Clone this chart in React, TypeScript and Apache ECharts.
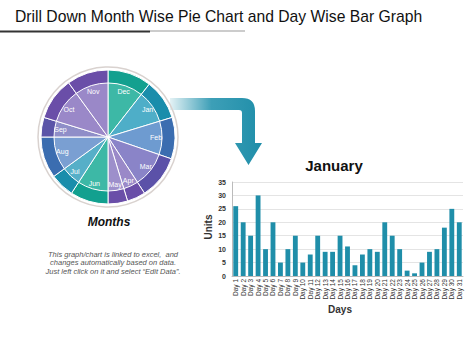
import React, { useEffect, useRef } from "react";
import * as echarts from "echarts";

const months = ["Dec", "Jan", "Feb", "Mar", "Apr", "May", "Jun", "Jul", "Aug", "Sep", "Oct", "Nov"];
const monthValues = [38, 35, 36, 38, 16, 17, 33, 21, 36, 17, 37, 36];
const outerColors = ["#13a08f", "#1a8dab", "#3b6db0", "#5b51a8", "#6a4ea8", "#6a4ea8", "#12a08f", "#1a8dab", "#3b6db0", "#5b55a8", "#6a4ea8", "#6a4ea8"];
const innerColors = ["#3db8a6", "#4eaec8", "#6e9bd0", "#8a84c8", "#9a89c8", "#9d8fcb", "#3db8a6", "#56afc8", "#7a9fd2", "#8f8ec8", "#9a88c8", "#9a88c8"];

const days = ["Day 1", "Day 2", "Day 3", "Day 4", "Day 5", "Day 6", "Day 7", "Day 8", "Day 9", "Day 10", "Day 11", "Day 12", "Day 13", "Day 14", "Day 15", "Day 16", "Day 17", "Day 18", "Day 19", "Day 20", "Day 21", "Day 22", "Day 23", "Day 24", "Day 25", "Day 26", "Day 27", "Day 28", "Day 29", "Day 30", "Day 31"];
const dayValues = [26, 20, 15, 30, 10, 20, 5, 10, 15, 5, 8, 15, 9, 9, 15, 11, 4, 8, 10, 9, 20, 15, 10, 2, 1, 5, 9, 10, 18, 25, 20];

const arrowD = "M170 98 L242 98 Q255 98 255 111 L255 143 L262 143 L248.5 165 L235 143 L242 143 L242 113 Q242 110 239 110 L170 110 Z";
echarts.graphic.registerShape("arrowShape", echarts.graphic.extendPath(arrowD, {}));

export default function App() {
  const ref = useRef<HTMLDivElement>(null);
  useEffect(() => {
    document.body.style.margin = "0";
    const chart = echarts.init(ref.current!, null, { renderer: "svg" });
    const font = "'Liberation Sans', Arial, sans-serif";
    const txt = (x: number, y: number, text: string, size: number, opts: any = {}) => ({
      type: "text",
      x,
      y,
      rotation: opts.rotation || 0,
      style: {
        text,
        fontSize: size,
        fontFamily: font,
        fontWeight: opts.weight || "normal",
        fontStyle: opts.style || "normal",
        fill: opts.fill || "#111",
        align: opts.align || "center",
        textAlign: opts.align || "center",
        verticalAlign: "middle",
        textVerticalAlign: "middle",
      },
    });
    chart.setOption({
      animation: false,
      textStyle: { fontFamily: font },
      grid: { left: 232, right: 11, top: 182, bottom: 79, containLabel: false },
      xAxis: {
        type: "category",
        data: days,
        axisTick: { show: false },
        axisLine: { lineStyle: { color: "#bbbbbb" } },
        axisLabel: { rotate: 90, interval: 0, fontSize: 6.5, color: "#333", margin: 3 },
      },
      yAxis: {
        type: "value",
        min: 0,
        max: 35,
        interval: 5,
        axisLine: { show: true, lineStyle: { color: "#bbbbbb" } },
        axisLabel: { fontSize: 7, fontWeight: "bold", color: "#333", margin: 6 },
        splitLine: { lineStyle: { color: "#e4e4e4" } },
      },
      series: [
        {
          type: "bar",
          data: dayValues,
          barWidth: "65%",
          itemStyle: { color: "#1f8ea9" },
        },
        {
          type: "pie",
          center: [108, 137],
          radius: [0, 67],
          startAngle: 90,
          silent: true,
          label: { show: false },
          labelLine: { show: false },
          itemStyle: { borderColor: "#ffffff", borderWidth: 1 },
          data: months.map((m, i) => ({ name: m, value: monthValues[i], itemStyle: { color: outerColors[i] } })),
        },
        {
          type: "pie",
          center: [108, 137],
          radius: [0, 54],
          startAngle: 90,
          silent: true,
          label: { show: false },
          labelLine: { show: false },
          itemStyle: { borderColor: "#ffffff", borderWidth: 1 },
          data: months.map((m, i) => ({ name: m, value: monthValues[i], itemStyle: { color: innerColors[i] } })),
        },
        {
          type: "pie",
          center: [108, 137],
          radius: [37, 53],
          startAngle: 90,
          silent: true,
          label: { show: true, position: "inside", color: "#ffffff", fontSize: 7, formatter: "{b}" },
          labelLine: { show: false },
          itemStyle: { color: "rgba(0,0,0,0)" },
          data: months.map((m, i) => ({ name: m, value: monthValues[i] })),
        },
      ],
      graphic: [
        txt(15, 16, "Drill Down Month Wise Pie Chart and Day Wise Bar Graph", 15.7, { align: "left" }),
        { type: "rect", shape: { x: 0, y: 30.5, width: 150, height: 2 }, style: { fill: "#333333" } },
        { type: "rect", shape: { x: 150, y: 30.5, width: 95, height: 1 }, style: { fill: "#9a9a9a" } },
        {
          type: "arrowShape",
          x: 0,
          y: 0,
          style: {
            fill: new echarts.graphic.LinearGradient(0, 0, 1, 0, [
              { offset: 0, color: "#e4f2f5" },
              { offset: 0.45, color: "#3d9fb7" },
              { offset: 1, color: "#1f8ea9" },
            ]),
          },
        },
        { type: "circle", shape: { cx: 108, cy: 137, r: 70 }, style: { fill: "none", stroke: "#d9d2cf", lineWidth: 1.5 } },
        txt(334, 165, "January", 15, { weight: "bold" }),
        txt(109, 222, "Months", 12, { weight: "bold", style: "italic" }),
        txt(113, 254, "This graph/chart is linked to excel,  and", 7.5, { style: "italic", fill: "#555" }),
        txt(113, 262.5, "changes automatically based on data.", 7.5, { style: "italic", fill: "#555" }),
        txt(113, 271, "Just left click on it and select \u201cEdit Data\u201d.", 7.5, { style: "italic", fill: "#555" }),
        txt(208, 227, "Units", 10, { weight: "bold", rotation: Math.PI / 2, fill: "#333" }),
        txt(340, 309, "Days", 10, { weight: "bold", fill: "#333" }),
      ],
    });
    return () => chart.dispose();
  }, []);
  return <div ref={ref} style={{ width: 474, height: 355 }} />;
}
